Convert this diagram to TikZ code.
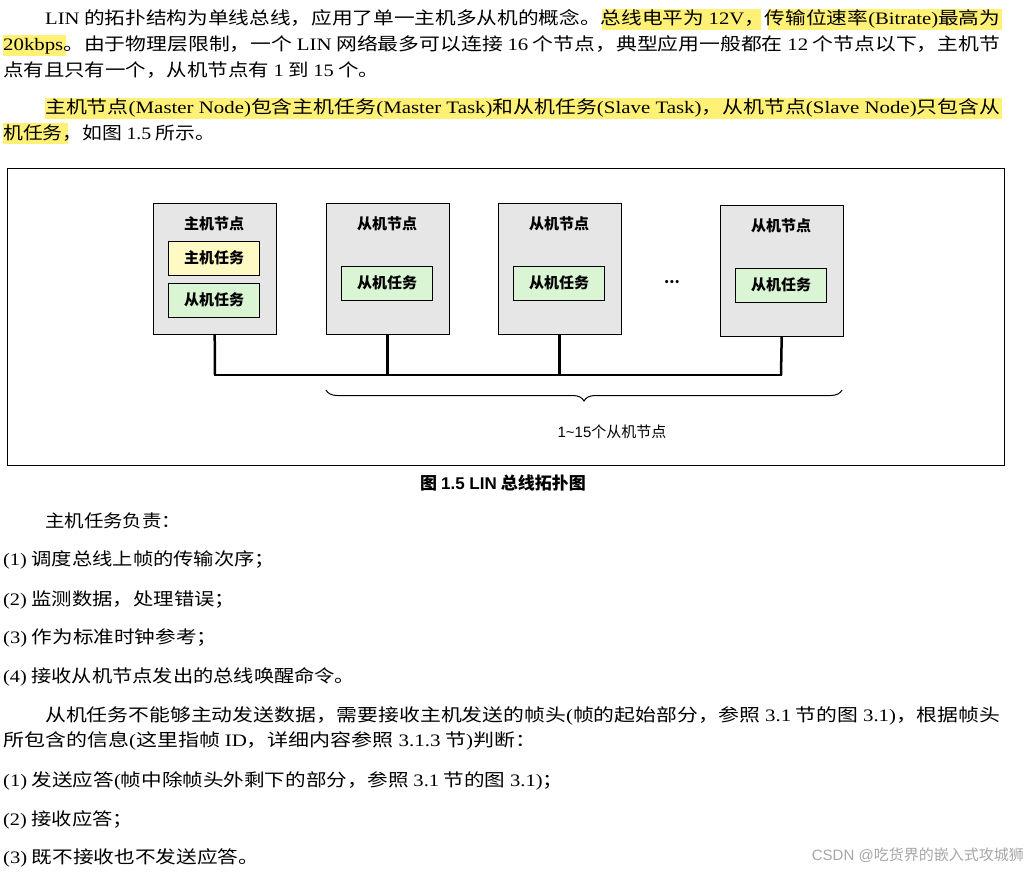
\documentclass[tikz,border=0pt]{standalone}
\usepackage{fontspec}
\usepackage{graphicx}
\setmainfont{Noto Sans CJK SC}
\newfontfamily\lat{Liberation Serif}
\newfontfamily\las{Liberation Sans}
\usetikzlibrary{decorations.pathreplacing}
\definecolor{hl}{HTML}{FFF176}
\definecolor{boxg}{HTML}{E6E6E6}
\definecolor{tyel}{HTML}{FFF9C4}
\definecolor{tgrn}{HTML}{D9F5D3}
\newcommand\jline[2]{\resizebox{#1pt}{\height}{#2}}
\tikzset{
 txt/.style={anchor=west,inner sep=0pt,font=\fontsize{17.5}{20}\selectfont},
 nodebox/.style={draw=black,fill=boxg,minimum width=123pt,minimum height=131pt,inner sep=0pt},
 task/.style={draw=black,minimum width=91pt,minimum height=34pt,inner sep=0pt,font=\bfseries\fontsize{15}{18}\selectfont},
 lbl/.style={inner sep=0pt,font=\bfseries\fontsize{15}{18}\selectfont},
}
\begin{document}
\begin{tikzpicture}[x=1pt,y=-1pt]
\useasboundingbox (0,0) rectangle (1028,872);
% highlights
\fill[hl] (602,9) rectangle (761,30);
\fill[hl] (768,9) rectangle (1002,30);
\fill[hl] (3,35) rectangle (66,56);
\fill[hl] (45,98) rectangle (1002,119);
\fill[hl] (3,123) rectangle (68,144);
\node[txt] (l1) at (45,19) {\jline{955}{{\lat LIN} 的拓扑结构为单线总线，应用了单一主机多从机的概念。总线电平为 {\lat 12V}，传输位速率{\lat (Bitrate)}最高为}};
\node[txt] (l2) at (3,45) {\jline{997}{{\lat 20kbps}。由于物理层限制，一个 {\lat LIN} 网络最多可以连接 {\lat 16} 个节点，典型应用一般都在 {\lat 12} 个节点以下，主机节}};
\node[txt] (l3) at (3,70) {\jline{376}{点有且只有一个，从机节点有 {\lat 1} 到 {\lat 15} 个。}};
\node[txt] (l4) at (45,108) {\jline{955}{主机节点{\lat (Master Node)}包含主机任务{\lat (Master Task)}和从机任务{\lat (Slave Task)}，从机节点{\lat (Slave Node)}只包含从}};
\node[txt] (l5) at (3,133) {\jline{212}{机任务，如图 {\lat 1.5} 所示。}};
% frame
\draw[line width=0.8pt] (7,168) rectangle (1004,465);
% nodes
\node[nodebox,anchor=north west] (m) at (153,203) {};
\node[nodebox,anchor=north west] (s1) at (326,203) {};
\node[nodebox,anchor=north west] (s2) at (498,203) {};
\node[nodebox,anchor=north west] (s3) at (720,205) {};
\node[lbl] (mt) at (214,224) {主机节点};
\node[lbl] (s1t) at (387,224) {从机节点};
\node[lbl] (s2t) at (559,224) {从机节点};
\node[lbl] (s3t) at (781,226) {从机节点};
\node[task,fill=tyel] (mtask) at (214,258) {主机任务};
\node[task,fill=tgrn] (mstask) at (214,300) {从机任务};
\node[task,fill=tgrn] (s1task) at (387,283) {从机任务};
\node[task,fill=tgrn] (s2task) at (559,283) {从机任务};
\node[task,fill=tgrn] (s3task) at (781,285) {从机任务};
\node[lbl] (dots) at (672,282) {...};
% bus
\coordinate (bl) at (215,375);
\coordinate (br) at (781,375);
\draw[line width=2.5pt] (m.south) -- (bl);
\draw[line width=2.5pt] (s1.south) -- (s1.south |- bl);
\draw[line width=2.5pt] (s2.south) -- (s2.south |- bl);
\draw[line width=2.5pt] (s3.south) -- (br);
\draw[line width=2.5pt,line cap=rect] (bl) -- (br);
\coordinate (b1) at (326,390);
\coordinate (b2) at (842,390);
\draw[line width=1pt,decorate,decoration={brace,mirror,amplitude=11pt}] (b1) -- (b2);
\node[lbl,font=\fontsize{15}{18}\selectfont] (cnt) at (612,432) {{\las 1\textasciitilde15}个从机节点};
\node[lbl,font=\bfseries\fontsize{17}{20}\selectfont] (cap) at (503,483) {图 {\las\bfseries 1.5 LIN} 总线拓扑图};
% body
\node[txt] (p1) at (45,521) {\jline{136}{主机任务负责：}};
\node[txt] (p2) at (3,560) {\jline{272}{{\lat (1)} 调度总线上帧的传输次序；}};
\node[txt] (p3) at (3,600) {\jline{232}{{\lat (2)} 监测数据，处理错误；}};
\node[txt] (p4) at (3,638) {\jline{214}{{\lat (3)} 作为标准时钟参考；}};
\node[txt] (p5) at (3,677) {\jline{352}{{\lat (4)} 接收从机节点发出的总线唤醒命令。}};
\node[txt] (p6) at (45,716) {\jline{955}{从机任务不能够主动发送数据，需要接收主机发送的帧头{\lat (}帧的起始部分，参照 {\lat 3.1} 节的图 {\lat 3.1)}，根据帧头}};
\node[txt] (p7) at (3,741) {\jline{533}{所包含的信息{\lat (}这里指帧 {\lat ID}，详细内容参照 {\lat 3.1.3} 节{\lat )}判断：}};
\node[txt] (p8) at (3,781) {\jline{560}{{\lat (1)} 发送应答{\lat (}帧中除帧头外剩下的部分，参照 {\lat 3.1} 节的图 {\lat 3.1)}；}};
\node[txt] (p9) at (3,820) {\jline{130}{{\lat (2)} 接收应答；}};
\node[txt] (p10) at (3,858) {\jline{256}{{\lat (3)} 既不接收也不发送应答。}};
\node[anchor=east,inner sep=0pt,text=gray!70,font=\fontsize{15}{18}\selectfont] (wm) at (1024,855) {{\las CSDN @}吃货界的嵌入式攻城狮};
\end{tikzpicture}
\end{document}
